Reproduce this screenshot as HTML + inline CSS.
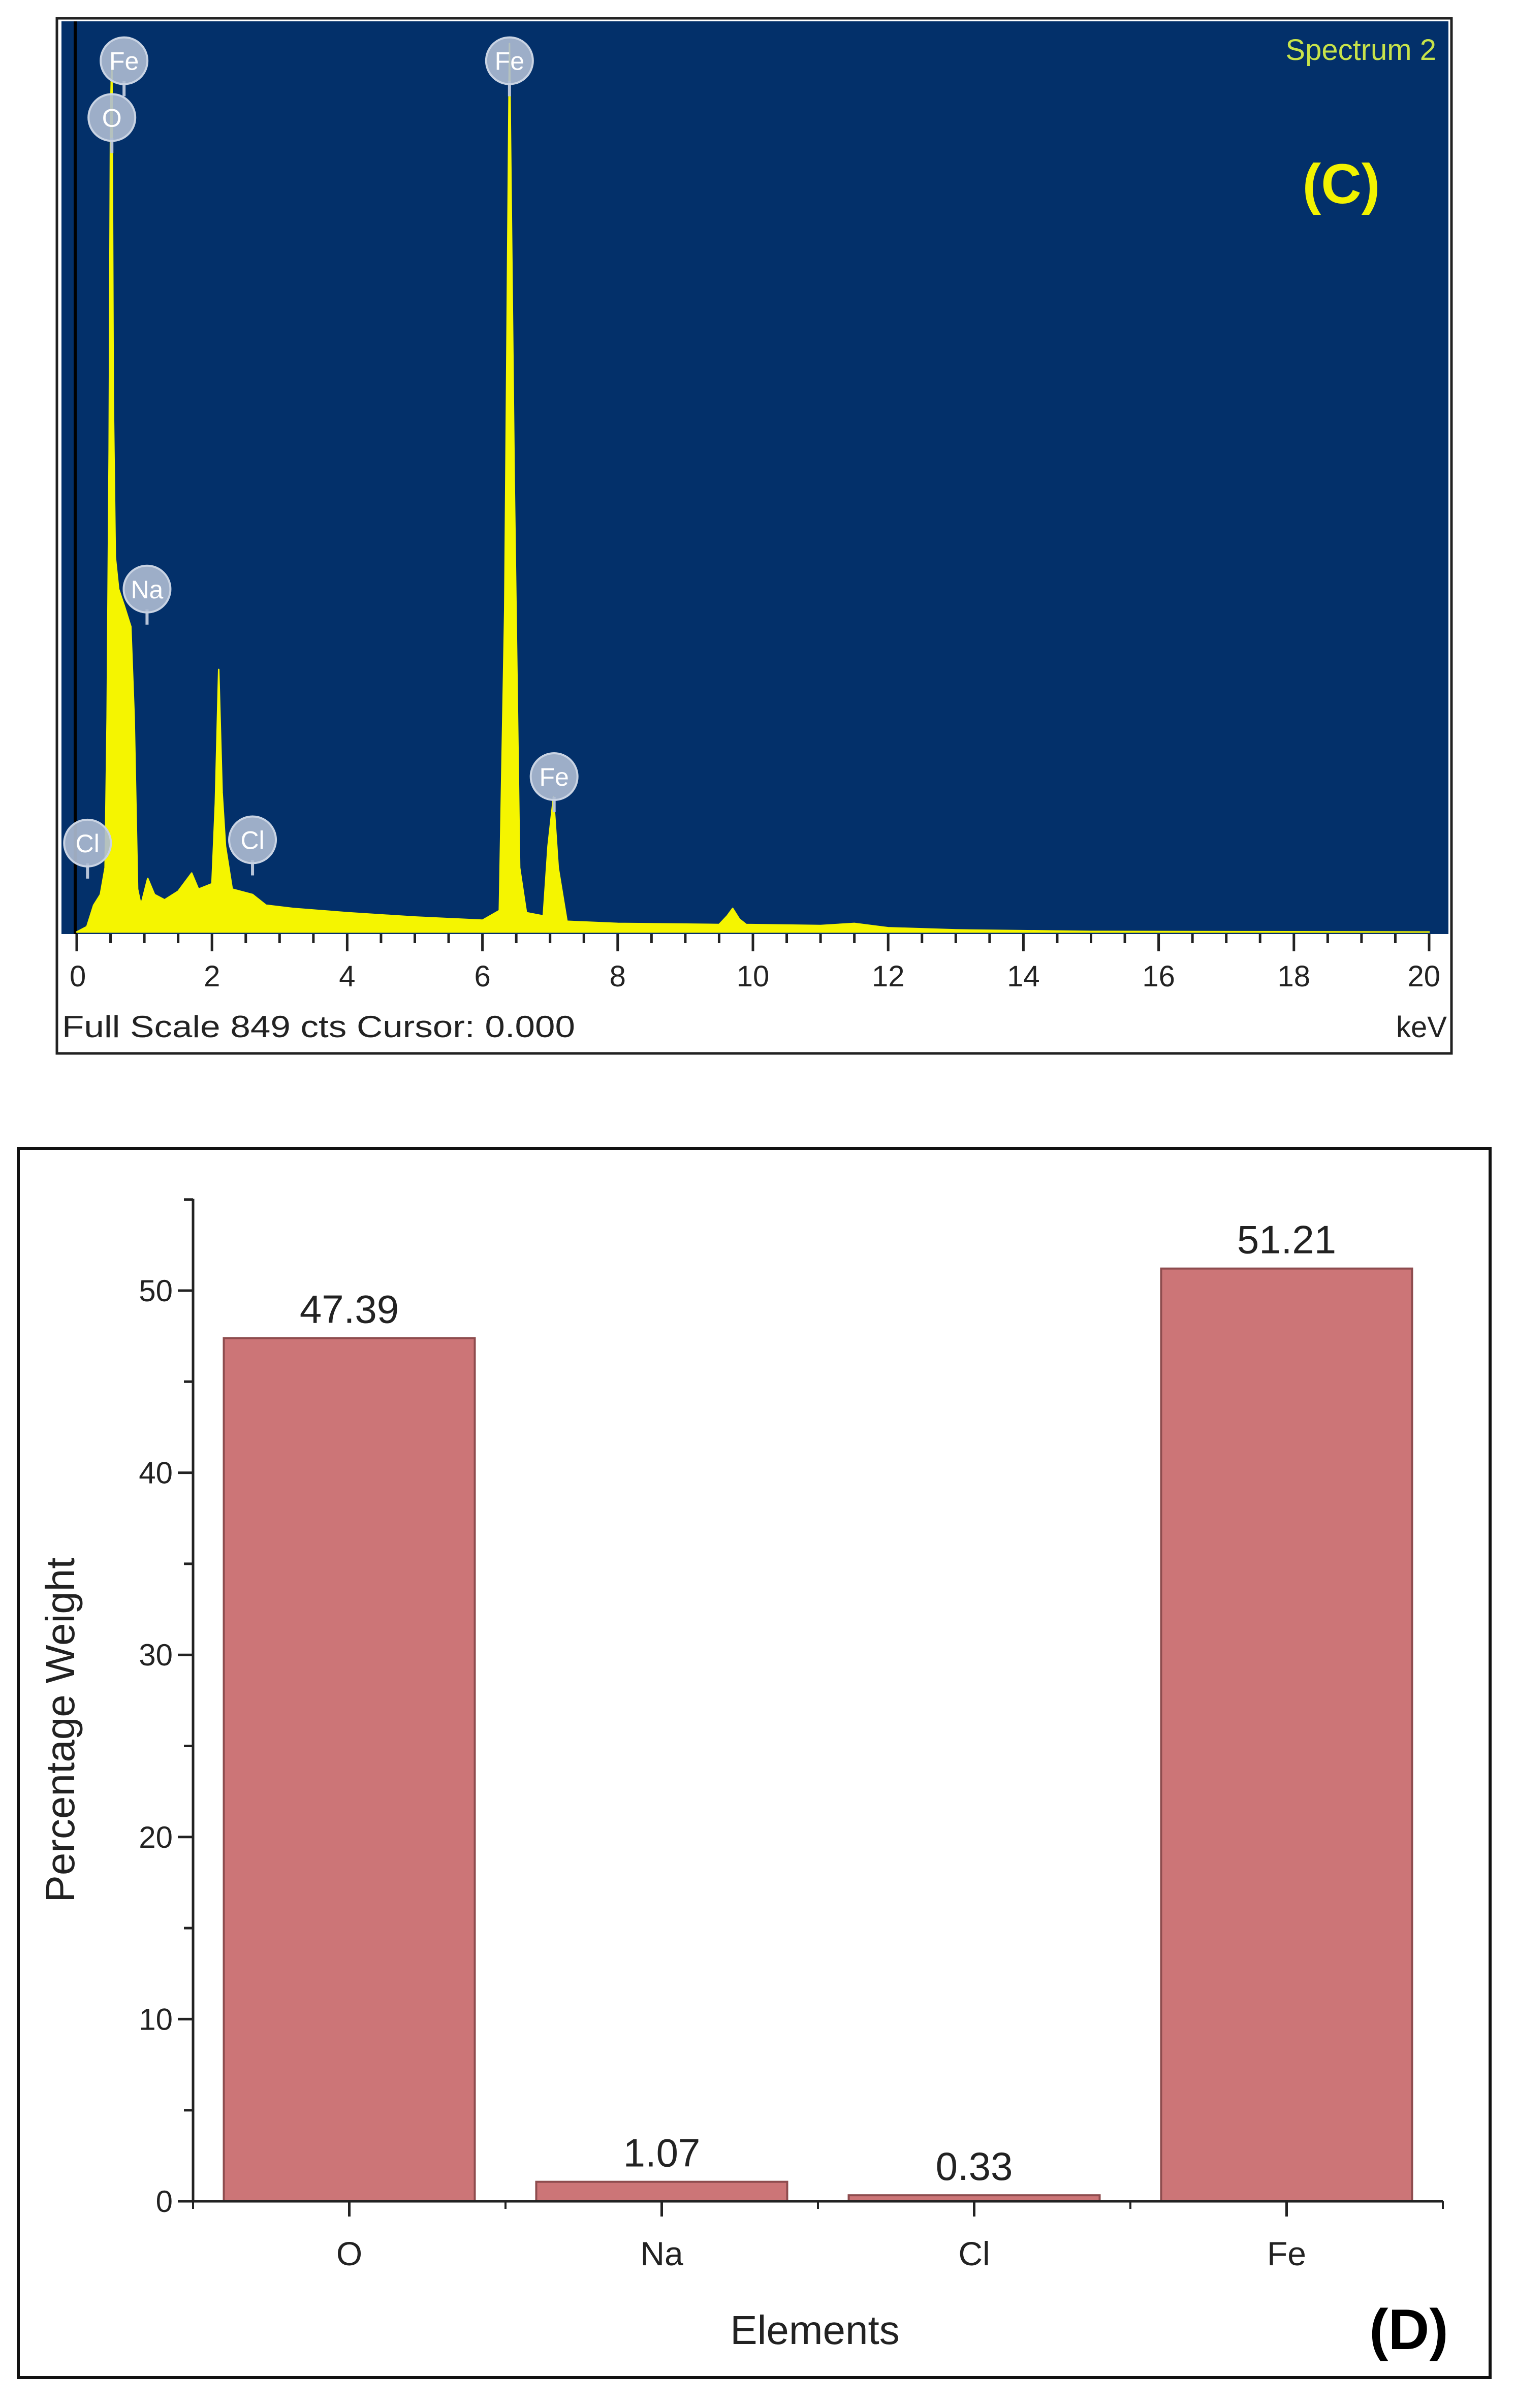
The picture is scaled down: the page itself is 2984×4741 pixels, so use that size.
<!DOCTYPE html>
<html><head><meta charset="utf-8"><style>
html,body{margin:0;padding:0;background:#fff;}
svg{display:block;font-family:"Liberation Sans",sans-serif;}
</style></head><body>
<svg id="root" width="2984" height="4741" viewBox="0 0 2984 4741" xmlns="http://www.w3.org/2000/svg">
<g id="specPanel">
<rect x="112" y="36" width="2745" height="2038" fill="#fff" stroke="#222" stroke-width="5"/>
<rect x="121" y="42" width="2730" height="1797" fill="#03306a"/>
<line x1="148" y1="42" x2="148" y2="1839" stroke="#000" stroke-width="6"/>
<g id="specMarks"></g>
<g id="specAxis"></g>
<g id="specLabels"></g>
<text x="2827" y="118" text-anchor="end" font-size="58" fill="#c8e34a">Spectrum 2</text>
<text x="2640" y="400" text-anchor="middle" font-size="110" font-weight="bold" fill="#f2f200">(C)</text>
<text x="122" y="2042" font-size="60" fill="#222" textLength="1010" lengthAdjust="spacingAndGlyphs">Full Scale 849 cts Cursor: 0.000</text>
<text x="2848" y="2042" text-anchor="end" font-size="58" fill="#222">keV</text>
</g>
<g id="barPanel">
<rect x="36" y="2261" width="2897" height="2420" fill="#fff" stroke="#111" stroke-width="6"/>
<g id="barMarks"></g>
<g id="barAxes"></g>
<text x="1604" y="4615" text-anchor="middle" font-size="80" fill="#222">Elements</text>
<text transform="translate(146,3406) rotate(-90)" text-anchor="middle" font-size="80" fill="#222">Percentage Weight</text>
<text x="2773" y="4625" text-anchor="middle" font-size="112" font-weight="bold" fill="#000">(D)</text>
</g>
</svg>
<script>
const specKeV=[0,0.15,0.25,0.35,0.42,0.45,0.48,0.5,0.52,0.54,0.57,0.62,0.7,0.8,0.85,0.9,0.95,1.05,1.15,1.3,1.5,1.7,1.8,2.0,2.05,2.1,2.15,2.2,2.3,2.6,2.8,3.2,4,5,6,6.25,6.33,6.4,6.47,6.55,6.65,6.9,6.97,7.05,7.12,7.25,8,9.5,9.62,9.7,9.8,9.9,11,11.5,12,13,15,20];
const specCounts=[0,5,25,35,60,200,450,760,820,500,350,320,305,285,200,40,25,50,35,30,38,55,40,45,120,245,130,80,40,35,25,22,18,14,11,20,300,829,420,60,18,15,80,126,60,10,8,7,15,22,12,7,6,8,4,2,0.5,0];
const peakNames=["Fe","O","Na","Cl","Cl","Fe","Fe"];
const peakKeV=[0.7,0.52,1.04,0.16,2.6,6.4,7.06];
const peakYCounts=[813,760,320,83,86,813,145];
const xTicks=[0,2,4,6,8,10,12,14,16,18,20];

const barCats=["O","Na","Cl","Fe"];
const barVals=[47.39,1.07,0.33,51.21];
const barLabels=["47.39","1.07","0.33","51.21"];
const yTicks=[0,10,20,30,40,50];

const NS="http://www.w3.org/2000/svg";
function mk(tag,attrs,parent,txt){const e=document.createElementNS(NS,tag);for(const k in attrs)e.setAttribute(k,attrs[k]);if(txt!==undefined)e.textContent=txt;parent.appendChild(e);return e;}

const sx=k=>151+k*133.1;
const sy=c=>1835-c*2.11;
const sm=document.getElementById('specMarks');
let d="M"+sx(specKeV[0])+","+sy(0);
for(let i=0;i<specKeV.length;i++)d+=" L"+sx(specKeV[i]).toFixed(1)+","+sy(specCounts[i]).toFixed(1);
d+=" L"+sx(20)+","+sy(0)+" Z";
const sp=mk('path',{d:d,fill:"#f5f500",stroke:"#f5f500","stroke-width":3,"stroke-linejoin":"round"},sm);



const sa=document.getElementById('specAxis');
for(let k=0;k<=20.001;k+=0.5){
  const major=Math.abs(k-Math.round(k/2)*2)<0.01;
  const t=mk('line',{x1:sx(k),x2:sx(k),y1:1839,y2:1839+(major?34:18),stroke:"#222","stroke-width":5},sa);
  
  
}
xTicks.forEach(k=>{
  const t=mk('text',{x:sx(k),y:1942,"text-anchor":k===20?"end":(k===0?"start":"middle"),"font-size":58,fill:"#222"},sa,String(k));
  if(k===20)t.setAttribute('x',sx(k)+22);
  if(k===0)t.setAttribute('x',sx(k)-14);
  
  
});

const sl=document.getElementById('specLabels');
peakNames.forEach((n,i)=>{
  const cx=sx(peakKeV[i]),cy=sy(peakYCounts[i]);
  const g=mk('g',{},sl);
  
  
  mk('line',{x1:cx,y1:cy+40,x2:cx,y2:cy+70,stroke:"#b8c4d8","stroke-width":6},g);
  mk('circle',{cx:cx,cy:cy,r:46,fill:"#aebdd3","fill-opacity":0.9,stroke:"#c9d3e3","stroke-width":4},g);
  mk('text',{x:cx,y:cy+18,"text-anchor":"middle","font-size":50,fill:"#fff"},g,n);
});

const x0=380,band=615,yb=4334,ky=35.86;
const bx=i=>x0+band*(i+0.5);
const by=v=>yb-v*ky;
const bm=document.getElementById('barMarks');
barCats.forEach((c,i)=>{
  const r=mk('rect',{x:bx(i)-247,y:by(barVals[i]),width:494,height:yb-by(barVals[i]),fill:"#cc7577",stroke:"#8e4c4e","stroke-width":4},bm);
  
  
  const t=mk('text',{x:bx(i),y:by(barVals[i])-30,"text-anchor":"middle","font-size":78,fill:"#222"},bm,barLabels[i]);
  
  
});
const ba=document.getElementById('barAxes');
const yl=mk('line',{x1:x0,y1:yb,x2:x0,y2:2360,stroke:"#222","stroke-width":5},ba);


const xl=mk('line',{x1:x0,y1:yb,x2:x0+band*4,y2:yb,stroke:"#222","stroke-width":5},ba);


for(let v=0;v<=55;v+=5){
  const major=v%10===0;
  const t=mk('line',{x1:x0,x2:x0-(major?30:18),y1:by(v),y2:by(v),stroke:"#222","stroke-width":5},ba);
  
  
}
yTicks.forEach(v=>{
  const t=mk('text',{x:x0-40,y:by(v)+21,"text-anchor":"end","font-size":60,fill:"#222"},ba,String(v));
  
  
});
for(let i=0;i<=4;i++){
  const t=mk('line',{x1:x0+band*i,x2:x0+band*i,y1:yb,y2:yb+15,stroke:"#222","stroke-width":4},ba);
  
  
}
barCats.forEach((c,i)=>{
  const t=mk('line',{x1:bx(i),x2:bx(i),y1:yb,y2:yb+30,stroke:"#222","stroke-width":5},ba);
  
  
  const l=mk('text',{x:bx(i),y:4460,"text-anchor":"middle","font-size":66,fill:"#222"},ba,c);
  
  
});
</script>
</body></html>
